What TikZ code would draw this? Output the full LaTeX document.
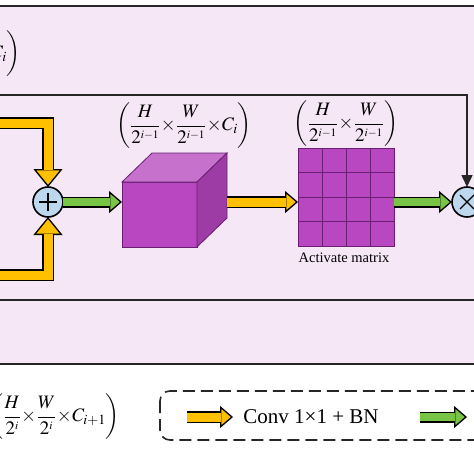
\documentclass[tikz,border=0pt]{standalone}
\usepackage{amsmath}
\usepackage{mathptmx}
\usepackage{fontspec}
\setmainfont{Liberation Serif}
\usetikzlibrary{arrows.meta,calc}
\tikzset{>=latex}
\definecolor{bg1}{HTML}{F6E7F6}
\definecolor{y1}{HTML}{FFC000}
\definecolor{g1}{HTML}{78C445}
\definecolor{b1}{HTML}{BDD7EE}
\definecolor{p1}{HTML}{B847C1}
\definecolor{p2}{HTML}{C672CC}
\definecolor{p3}{HTML}{9C3CA4}
\definecolor{p4}{HTML}{6A1F72}
\newcommand\hwfrac[2]{\dfrac{#1}{2^{\scriptscriptstyle #2}}}
\newcommand\mtimes{\mkern-2mu\times\mkern-2mu}
\tikzstyle{line}=[line width=1.6pt,color=black!85]
\tikzstyle{bigY}=[line width=12pt,-{Triangle[width=29pt,length=18pt,line width=1.3pt,fill=y1]},postaction={draw=y1,line width=9pt,arrows=-,shorten >=17pt}]
\tikzstyle{fatY}=[line width=12pt,-{Triangle[width=22pt,length=13pt,line width=1.3pt,fill=y1]},postaction={draw=y1,line width=9pt,arrows=-,shorten >=12pt}]
\tikzstyle{fatG}=[line width=11pt,-{Triangle[width=22pt,length=13pt,line width=1.3pt,fill=g1]},postaction={draw=g1,line width=8pt,arrows=-,shorten >=12pt}]
\tikzstyle{opcircle}=[circle,draw,line width=1.6pt,fill=b1,minimum size=30pt,inner sep=0pt,outer sep=0pt]
\tikzstyle{face}=[draw=p4,line width=0.8pt,fill=p1,inner sep=0pt,outer sep=0pt]
\tikzstyle{lbl}=[font=\fontsize{19}{22}\selectfont,inner sep=0pt]

\begin{document}
\begin{tikzpicture}[x=1pt,y=-1pt]
  \useasboundingbox (0,0) rectangle (474,474);
  \fill[bg1] (-10,6) rectangle (484,364);
  \draw[line] (-10,6) -- (484,6);
  \draw[line] (-10,300) -- (484,300);
  \draw[line] (-10,364) -- (484,364);

  \node[opcircle] (add) at (48,202) {};
  \node[face,minimum width=75pt,minimum height=65pt] (cube) at (159.5,214.5) {};
  \draw[face,fill=p2] (cube.north west) -- ++(30,-29) -- ++(75,0) -- (cube.north east) -- cycle;
  \draw[face,fill=p3] (cube.north east) -- ++(30,-29) -- ++(0,65) -- (cube.south east) -- cycle;
  \coordinate (cubeR) at ([xshift=30pt]cube.east);

  \node[face,minimum width=96pt,minimum height=98pt] (act) at (346,197) {};
  \foreach \k in {1,2,3} {
    \draw[p4,line width=0.9pt] ($(act.north west)!\k/4!(act.north east)$) -- ($(act.south west)!\k/4!(act.south east)$);
    \draw[p4,line width=0.9pt] ($(act.north west)!\k/4!(act.south west)$) -- ($(act.north east)!\k/4!(act.south east)$);
  }
  \node[opcircle] (mul) at (467,202) {};

  % plus and times signs
  \draw[line width=2.8pt] ([xshift=-9pt]add.center) -- ([xshift=9pt]add.center);
  \draw[line width=2.8pt] ([yshift=-9pt]add.center) -- ([yshift=9pt]add.center);
  \draw[line width=1.3pt] ([shift={(-7,-7)}]mul.center) -- ([shift={(7,7)}]mul.center);
  \draw[line width=1.3pt] ([shift={(-7,7)}]mul.center) -- ([shift={(7,-7)}]mul.center);

  \node[lbl,anchor=east] (inlbl) at (21,54) {$\left(\hwfrac{H}{i-1}\mtimes\hwfrac{W}{i-1}\mtimes C_i\right)$};
  \node[lbl] (cubelbl) at (184,126) {$\left(\hwfrac{H}{i-1}\mtimes\hwfrac{W}{i-1}\mtimes C_i\right)$};
  \node[lbl] (actlbl) at (346,124) {$\left(\hwfrac{H}{i-1}\mtimes\hwfrac{W}{i-1}\right)$};
  \node[font=\fontsize{14.5}{17}\selectfont] (actname) at (344,258) {Activate matrix};

  \coordinate (inA) at (-10,123);
  \coordinate (inB) at (-10,275);
  \coordinate (skip) at (-10,95);
  \draw[bigY] (inA) -| (add.north);
  \draw[bigY] (inB) -| (add.south);
  \draw[fatG] (add.east) -- (cube.west |- add.east);
  \draw[fatY] (cubeR |- add.east) -- (act.west |- add.east);
  \draw[fatG] (act.east |- mul.west) -- (mul.west);
  \draw[line,-{Triangle[width=11pt,length=12pt]}] (skip) -| (mul.north);

  % legend
  \node[lbl,anchor=east] (outlbl) at (120,417) {$\left(\hwfrac{H}{i}\mtimes\hwfrac{W}{i}\mtimes C_{i+1}\right)$};
  \draw[line,dash pattern=on 12pt off 6pt,rounded corners=10pt] (160,391) rectangle (500,440);
  \coordinate (legYa) at (187,417);
  \coordinate (legYb) at (233,417);
  \coordinate (legGa) at (420,417);
  \coordinate (legGb) at (467,417);
  \draw[fatY] (legYa) -- (legYb);
  \node[font=\fontsize{21}{25}\selectfont] (conv) at (311,417) {Conv 1×1 + BN};
  \draw[fatG] (legGa) -- (legGb);
\end{tikzpicture}
\end{document}
